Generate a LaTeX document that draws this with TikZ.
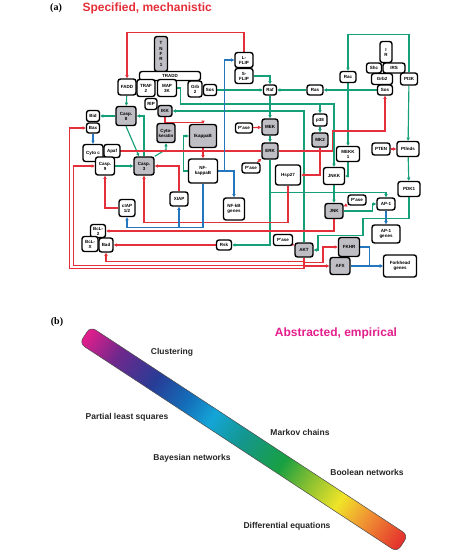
\documentclass[tikz,border=0pt]{standalone}
\usepackage{fontspec}
\setmainfont{Liberation Sans}
\newfontfamily\labserif{Liberation Serif}
\usetikzlibrary{arrows.meta,backgrounds,calc}

\definecolor{sigred}{RGB}{228,48,58}
\definecolor{siggrn}{RGB}{22,160,122}
\definecolor{sigblu}{RGB}{36,118,190}
\definecolor{actgray}{RGB}{190,190,196}
\definecolor{pinkhead}{RGB}{228,30,140}

\pgfdeclarehorizontalshading{rainbowbar}{100bp}{
  color(0bp)=(pinkhead); color(25bp)=(pinkhead);
  color(30bp)=(rgb,255:red,112;green,40;blue,140);
  color(36bp)=(rgb,255:red,40;green,60;blue,150);
  color(41bp)=(rgb,255:red,20;green,110;blue,185);
  color(45bp)=(rgb,255:red,20;green,165;blue,215);
  color(50bp)=(rgb,255:red,20;green,150;blue,140);
  color(56bp)=(rgb,255:red,25;green,160;blue,65);
  color(60bp)=(rgb,255:red,130;green,190;blue,50);
  color(65bp)=(rgb,255:red,240;green,228;blue,40);
  color(69bp)=(rgb,255:red,240;green,150;blue,50);
  color(75bp)=(rgb,255:red,228;green,45;blue,45); color(100bp)=(rgb,255:red,228;green,45;blue,45)}

\tikzset{
  box/.style={draw=black, line width=1.4pt, rounded corners=2.5pt, fill=white,
    inner sep=0.5pt, align=center, font=\fontsize{4.5}{5}\selectfont\bfseries},
  act/.style={box, fill=actgray},
  sz/.style 2 args={minimum width=#1pt, minimum height=#2pt},
  tip/.style={-{Triangle[length=3.2pt,width=3.2pt]}},
  gar/.style={draw=siggrn, line width=1.15pt, tip},
  rar/.style={draw=sigred, line width=1.15pt, tip},
  bar/.style={draw=sigblu, line width=1.15pt, tip},
  method/.style={font=\fontsize{8.5}{10}\selectfont\bfseries, text=black!85}
}

\begin{document}
\begin{tikzpicture}[x=1pt, y=-1pt]
  \useasboundingbox (0,0) rectangle (474,560);

  % panel titles
  \node[font=\labserif\bfseries\fontsize{10}{12}\selectfont] (lbla) at (56,8) {(a)};
  \node[anchor=west, font=\bfseries\fontsize{12}{14}\selectfont, text=sigred] (heada) at (79,8) {Specified, mechanistic};
  \node[font=\labserif\bfseries\fontsize{10}{12}\selectfont] (lblb) at (57,322) {(b)};
  \node[font=\bfseries\fontsize{12}{14}\selectfont, text=pinkhead] (headb) at (336,333) {Abstracted, empirical};

  % receptor side
  \node[act, sz={13}{35}, font=\fontsize{4.5}{5.4}\selectfont\bfseries] (tnfr) at (161,54) {T\\N\\F\\R\\1};
  \node[box, sz={61}{9}] (tradd) at (170,76) {TRADD};
  \node[box, sz={18}{16}] (fadd) at (127,87) {FADD};
  \node[box, sz={18}{17}] (traf) at (146,88) {TRAF\\2};
  \node[box, sz={19}{17}] (map3k) at (167,88) {MAP\\3K};
  \node[box, sz={14}{16}] (grbL) at (195,89) {Grb\\2};
  \node[box, sz={13}{11}] (sosL) at (210,90) {Sos};
  \node[box, sz={12}{11}] (rip) at (151,104) {RIP};
  \node[act, sz={14}{11}] (ikk) at (165,111) {IKK};

  % apoptosis block
  \node[act, sz={20}{19}] (casp8) at (126,116) {Casp.\\8};
  \node[box, sz={13}{11}] (bid) at (93,116) {Bid};
  \node[box, sz={13}{10}] (bax) at (93,128) {Bax};
  \node[act, sz={18}{19}] (cytok) at (166,133) {Cyto-\\keratin};
  \node[act, sz={27}{23}] (ikb) at (203,136) {IkappaB};
  \node[box, sz={20}{17}] (cytoc) at (93,153) {Cyto c};
  \node[box, sz={16}{13}] (apaf) at (112,151) {Apaf};
  \node[box, sz={19}{18}] (casp9) at (105,166) {Casp.\\9};
  \node[act, sz={20}{18}] (casp3) at (144,166) {Casp.\\3};
  \node[box, sz={29}{24}] (nfkb) at (203,171) {NF-\\kappaB};
  \node[box, sz={18}{14}] (xiap) at (179,199) {XIAP};
  \node[box, sz={16}{17}] (ciap) at (127,208) {cIAP\\1/2};
  \node[box, sz={21}{22}] (nfgenes) at (234,209) {NF-kB\\genes};
  \node[box, sz={15}{13}] (bcltwo) at (98,231) {BcL-\\2};
  \node[box, sz={16}{15}] (bclx) at (90,244) {BcL-\\X};
  \node[box, sz={14}{14}] (bad) at (106,245) {Bad};
  \node[box, sz={15}{10}] (rsk) at (224,245) {Rsk};

  % MAPK block
  \node[box, sz={18}{15}] (lflip) at (244,60) {L-\\FLIP};
  \node[box, sz={18}{15}] (sflip) at (244,76) {S-\\FLIP};
  \node[box, sz={13}{10}] (raf) at (270,90) {Raf};
  \node[box, sz={16}{10}] (ras) at (315,90) {Ras};
  \node[box, sz={17}{10}] (pasea) at (244,128) {P'ase};
  \node[act, sz={16}{16}] (mek) at (270,127) {MEK};
  \node[act, sz={16}{16}] (erk) at (270,151) {ERK};
  \node[box, sz={18}{10}] (paseb) at (251,168) {P'ase};
  \node[box, sz={25}{20}] (hsp) at (288,175) {Hsp27};
  \node[box, sz={14}{12}] (pmap) at (320,120) {p38};
  \node[act, sz={16}{14}] (mk2) at (320,140) {MK2};
  \node[box, sz={23}{15}] (mekk) at (348,154) {MEKK\\1};
  \node[box, sz={21}{17}] (jnkk) at (334,176) {JNKK};
  \node[act, sz={18}{15}] (jnk) at (334,211) {JNK};
  \node[box, sz={18}{10}] (pasec) at (357,200) {P'ase};
  \node[box, sz={18}{12}] (apone) at (386,204) {AP-1};
  \node[box, sz={28}{18}] (apgenes) at (386,234) {AP-1\\genes};

  % insulin / survival block
  \node[box, sz={16}{11}] (rac) at (348,77) {Rac};
  \node[box, sz={12}{21}] (ir) at (386,52) {I\\R};
  \node[box, sz={15}{10}] (shc) at (374,68) {Shc};
  \node[box, sz={22}{10}] (irs) at (394,68) {IRS};
  \node[box, sz={21}{11}] (grbR) at (382,79) {Grb2};
  \node[box, sz={17}{12}] (pik) at (409,79) {PI3K};
  \node[box, sz={15}{10}] (sosR) at (385,90) {Sos};
  \node[box, sz={18}{12}] (pten) at (381,149) {PTEN};
  \node[box, sz={22}{15}] (ptd) at (408,149) {Ptlnds};
  \node[box, sz={22}{15}] (pdk) at (409,189) {PDK1};
  \node[box, sz={19}{11}] (pased) at (283,240) {P'ase};
  \node[act, sz={18}{14}] (akt) at (304,250) {AKT};
  \node[act, sz={21}{19}] (fkhr) at (349,247) {FKHR};
  \node[act, sz={20}{17}] (afx) at (340,266) {AFX};
  \node[box, sz={33}{22}] (fkgenes) at (400,266) {Forkhead\\genes};

  \begin{pgfonlayer}{background}
    % activation (green)
    \draw[gar] (fadd) -- (casp8);
    \draw[gar] (casp8) -- (bid);
    \draw[gar] (casp8.south) -- ($(casp3.north)+(-5,0)$);
    \draw[gar] (casp3.north) |- (casp8.east);
    \draw[gar] (casp9) -- (casp3);
    \draw[gar] (casp3.north east) -- ++(10,-6) -| (cytok.south);
    \draw[gar] (nfkb.west) -- ++(-4,0) |- (ikb.west);
    \draw[gar] (sosL) -- (raf);
    \draw[gar] (ras) -- (raf);
    \draw[gar] (sosR) -- (ras);
    \draw[gar] (sflip.east) -| (raf.north);
    \draw[gar] (raf) -- (mek);
    \draw[gar] (mek) -- (erk);
    \draw[gar] (erk.south) |- (rsk.east);
    \draw[gar] (erk.south) -- ++(0,33) -| (apone.north);
    \draw[gar] (map3k.east) -- ++(3.5,0) -- ++(0,16) -| (jnkk.north);
    \draw[gar] (map3k.east) -- ++(3.5,0) -- ++(0,16) -| (pmap.north);
    \draw[gar] (pmap) -- (mk2);
    \draw[gar] (rac) -- (mekk);
    \draw[gar] (mekk.south) |- (jnkk.east);
    \draw[gar] (jnkk) -- (jnk);
    \draw[gar] (jnk.east) -- ++(29,0) |- (apone.west);
    \draw[gar] (pik.north) -- ++(0,-38) -| (rac.north);
    \draw[gar] (pik) -- (ptd);
    \draw[gar] (ptd) -- (pdk);
    \draw[gar] (pdk.south) -- ++(0,21.5) -- ++(-46,0) -- ++(0,17) -- ++(-45,0) |- (akt.east);
    \draw[gar] (akt.north) |- (ikk.east);
    % inhibition / phosphorylation (red)
    \draw[rar] (lflip.north) |- ($(fadd.north)+(0,-46)$) -- (fadd.north);
    \draw[rar] (ikk.south) -- ++(0,5) -| (ikb.north);
    \draw[rar] (ikb) -- (nfkb);
    \draw[rar] (xiap.north) |- (casp3.east);
    \draw[rar] (ciap.west) -| (casp9.south);
    \draw[rar] (rsk) -- (bad);
    \draw[rar] (pasea) -- (mek);
    \draw[rar] (paseb) -- (erk);
    \draw[rar] (erk.west) -| ($(casp9.north)+(6,0)$);
    \draw[rar] (erk.east) -- ++(54,0) -- ++(0,-20) -| (sosR.south);
    \draw[rar] (mk2.south) |- (hsp.east);
    \draw[rar] (hsp.south) -- ++(0,37) -| (casp3.south);
    \draw[rar] (pasec) -- (jnk);
    \draw[rar] (jnk.south) |- (bcltwo.east);
    \draw[rar] (pten) -- (ptd);
    \draw[rar] (pased) -- (akt);
    \draw[rar] (akt.south) |- (afx.west);
    \draw[rar] (akt.south) -- ++(0,5) -- ++(19,0) |- (fkhr.west);
    \draw[rar] (akt.south) -- ++(0,11) -| ($(bax.west)+(-16,0)$) -- (bax.west);
    \draw[rar] (akt.south) -- ++(0,8) -| ($(casp9.west)+(-21,0)$) -- (casp9.west);
    \draw[rar] (akt.south) -- ++(0,4) -| (bad.south);
    % transcription (blue)
    \draw[bar] (bax) -- (cytoc);
    \draw[bar] (nfkb.east) -| (nfgenes.north);
    \draw[bar] (nfkb.east) -- ++(6,0) |- (lflip.west);
    \draw[bar] (nfkb.south) -- ++(0,44) -| (ciap.south);
    \draw[bar] (nfkb.south) -- ++(0,44) -| (xiap.south);
    \draw[bar] (apone) -- (apgenes);
    \draw[bar] (fkhr.east) -- ++(9,0) |- (fkgenes.west);
    \draw[bar] (afx) -- (fkgenes);
  \end{pgfonlayer}

  % panel (b): the model spectrum
  \begin{scope}[transform canvas={shift={(85pt,-335pt)}, rotate=-33.3}]
    \shade[shading=rainbowbar, draw=black!70, line width=0.5pt, rounded corners=6pt]
      (0,-10) rectangle (380,10);
  \end{scope}
  \node[method] (clus) at (172,352) {Clustering};
  \node[method] (pls) at (127,417) {Partial least squares};
  \node[method] (markov) at (300,432) {Markov chains};
  \node[method] (bayes) at (192,458) {Bayesian networks};
  \node[method] (bool) at (367,472) {Boolean networks};
  \node[method] (diffeq) at (287,526) {Differential equations};
\end{tikzpicture}
\end{document}
